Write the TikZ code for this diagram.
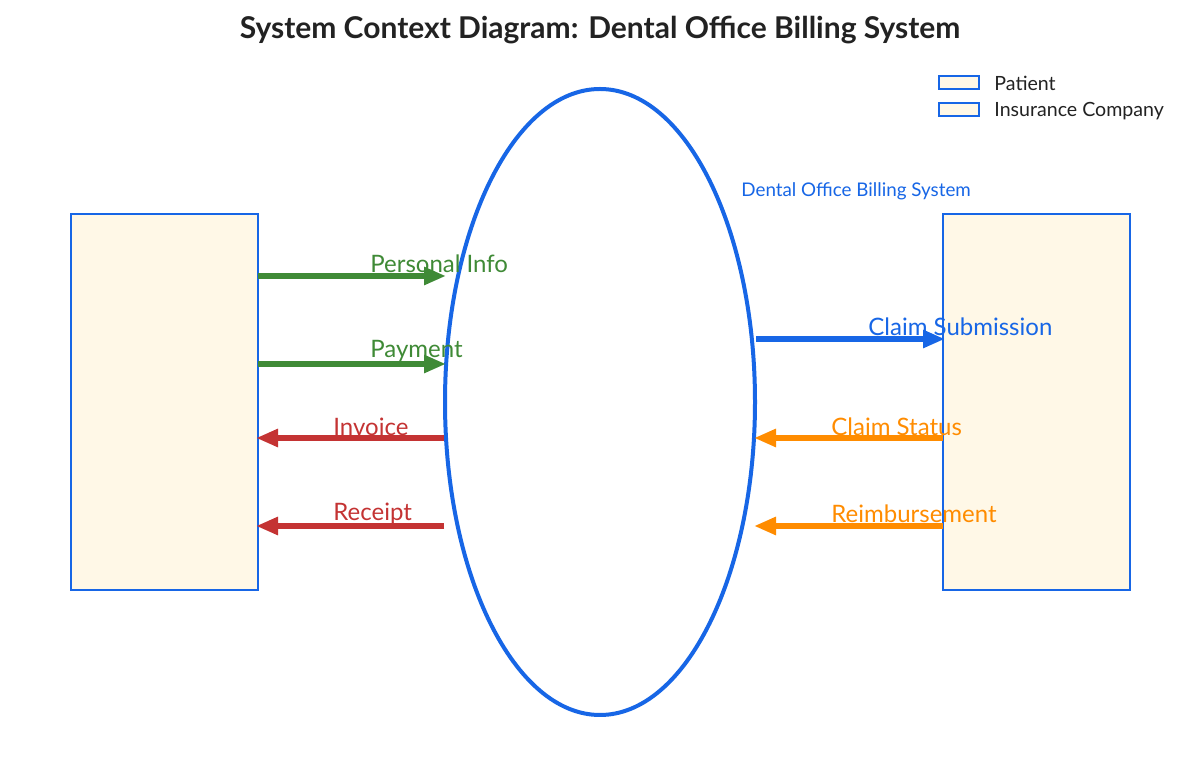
\documentclass[tikz,border=0pt]{standalone}
\usepackage{fontspec}
\setmainfont{Lato}
\usetikzlibrary{arrows.meta,shapes.geometric}
\definecolor{sysblue}{HTML}{1766E6}
\definecolor{flowgreen}{HTML}{3F8A36}
\definecolor{flowred}{HTML}{C43333}
\definecolor{floworange}{HTML}{FF8C00}
\definecolor{cream}{HTML}{FFF8E7}
\definecolor{titlegray}{HTML}{222222}
\begin{document}
\begin{tikzpicture}[x=0.5pt,y=-0.5pt,
  entity/.style={draw=sysblue,fill=cream,line width=1pt,minimum width=93.5pt,minimum height=188pt,inner sep=0pt,anchor=north west},
  sysnode/.style={draw=sysblue,line width=2pt,ellipse,minimum width=155pt,minimum height=313pt,inner sep=0pt},
  legbox/.style={draw=sysblue,fill=cream,line width=1pt,minimum width=20pt,minimum height=6.5pt,inner sep=0pt},
  flow/.style={line width=3pt,-{Triangle[length=11pt,width=8.5pt]},shorten >=-1.5pt,shorten <=-0.5pt},
  lbl/.style={font=\fontsize{12pt}{14pt}\selectfont,inner sep=0pt,anchor=west},
  legtxt/.style={font=\fontsize{9.8pt}{11pt}\selectfont,text=titlegray,inner sep=0pt,anchor=west}]
\useasboundingbox (0,0) rectangle (1200,763);
\fill[white] (0,0) rectangle (1200,763);
\node[font=\fontsize{15pt}{17pt}\selectfont\bfseries,text=titlegray] (title) at (600,30) {System Context Diagram: Dental Office Billing System};
\node[entity] (patient) at (70,213) {};
\node[entity] (insurance) at (942,213) {};
\node[sysnode] (system) at (600,402) {};
\node[lbl,text=sysblue,font=\fontsize{9.4pt}{11pt}\selectfont] (syslbl) at (741,191) {Dental Office Billing System};
% legend
\node[legbox] (legp) at (959,82.5) {};
\node[legtxt] (legptxt) at (994,83) {Patient};
\node[legbox] (legi) at (959,110) {};
\node[legtxt] (legitxt) at (994,111) {Insurance Company};
% flows
\coordinate (y1) at (0,276);
\coordinate (y2) at (0,364);
\coordinate (y3) at (0,438);
\coordinate (y4) at (0,526);
\coordinate (y5) at (0,339);
\draw[flow,flowgreen] (patient.east |- y1) -- (system.west |- y1);
\draw[flow,flowgreen] (patient.east |- y2) -- (system.west |- y2);
\draw[flow,flowred] (system.west |- y3) -- (patient.east |- y3);
\draw[flow,flowred] (system.west |- y4) -- (patient.east |- y4);
\draw[flow,sysblue] (system.east |- y5) -- (insurance.west |- y5);
\draw[flow,floworange] (insurance.west |- y3) -- (system.east |- y3);
\draw[flow,floworange] (insurance.west |- y4) -- (system.east |- y4);
\node[lbl,text=flowgreen] (lpi) at (370,264) {Personal Info};
\node[lbl,text=flowgreen] (lpay) at (370,351) {Payment};
\node[lbl,text=flowred] (linv) at (333,427) {Invoice};
\node[lbl,text=flowred] (lrec) at (333,514) {Receipt};
\node[lbl,text=sysblue] (lcs) at (868,327) {Claim Submission};
\node[lbl,text=floworange] (lst) at (831,427) {Claim Status};
\node[lbl,text=floworange] (lreimb) at (831,514) {Reimbursement};
\end{tikzpicture}
\end{document}
